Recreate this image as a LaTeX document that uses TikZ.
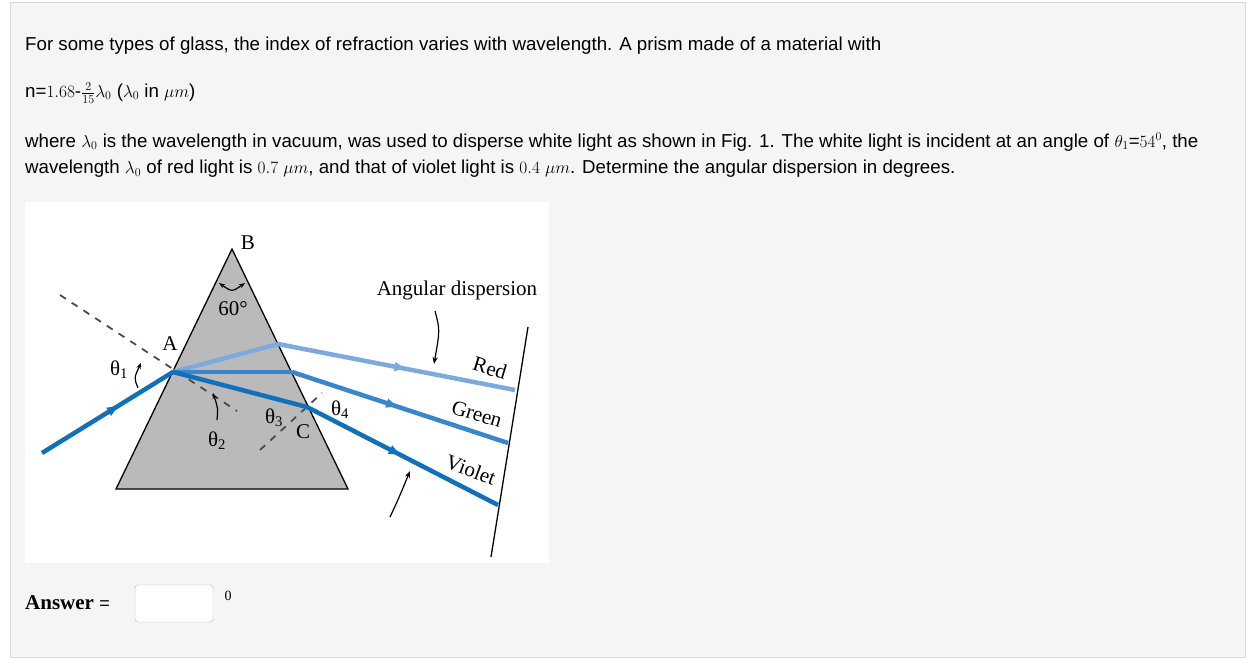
\documentclass[tikz,border=0pt]{standalone}
\usepackage{fontspec}
\setmainfont{Liberation Sans}
\newfontfamily\serf{Liberation Serif}
\usetikzlibrary{decorations.markings,arrows.meta}
\definecolor{rc}{HTML}{7EA9DC}
\definecolor{gc}{HTML}{3A86CC}
\definecolor{vc}{HTML}{1170BA}
\tikzset{
 ray/.style={line width=4.5pt},
 midarr/.style={postaction={decorate},decoration={markings,mark=at position #1 with {\arrow{Latex[length=14pt,width=10pt]}}}},
 dsh/.style={dash pattern=on 7pt off 7pt,line width=1.8pt,black!70},
 lbl/.style={font=\serf\fontsize{21}{21}\selectfont,inner sep=0pt},
 txt/.style={anchor=west,inner sep=0pt,font=\fontsize{18.7}{22}\selectfont}
}
\begin{document}
\begin{tikzpicture}[x=1pt,y=-1pt]
\useasboundingbox (0,0) rectangle (1253,661);
\fill[white] (0,0) rectangle (1253,661);
\filldraw[fill=black!4,draw=black!15] (10,2) rectangle (1245,657);
\node[txt] (t1) at (25,46) {For some types of glass, the index of refraction varies with wavelength. A prism made of a material with};
\node[txt] (t2) at (25,93) {n=$1.68$-$\frac{2}{15}\lambda_0$ ($\lambda_0$ in $\mu m$)};
\node[txt] (t3) at (25,142) {where $\lambda_0$ is the wavelength in vacuum, was used to disperse white light as shown in Fig. 1. The white light is incident at an angle of $\theta_1$=$54^0$, the};
\node[txt] (t4) at (25,169) {wavelength $\lambda_0$ of red light is $0.7\ \mu m$, and that of violet light is $0.4\ \mu m$. Determine the angular dispersion in degrees.};
\fill[white] (25,202) rectangle (549,563);
\coordinate (B) at (232,249);
\coordinate (BL) at (116,489);
\coordinate (BR) at (348,489);
\filldraw[fill=black!27,draw=black,line width=1.3pt] (B) -- (BL) -- (BR) -- cycle;
\coordinate (A) at (173,372);
\coordinate (Re) at (278,344);
\coordinate (Ge) at (292,372);
\coordinate (Ve) at (307,407);
\coordinate (Rf) at (515,390);
\coordinate (Gf) at (508,443);
\coordinate (Vf) at (498,505);
\coordinate (S0) at (42,453);
\coordinate (N1) at (60,295); \coordinate (N2) at (237,411);
\draw[dsh] (N1) -- (N2);
\coordinate (N3) at (260,450); \coordinate (N4) at (322,393);
\draw[dsh] (N3) -- (N4);
\draw[ray,rc] (A) -- (Re);
\draw[ray,rc,midarr=0.55] (Re) -- (Rf);
\draw[ray,gc] (A) -- (Ge);
\draw[ray,gc,midarr=0.5] (Ge) -- (Gf);
\draw[ray,vc] (A) -- (Ve);
\draw[ray,vc,midarr=0.5] (Ve) -- (Vf);
\draw[ray,vc,midarr=0.6] (S0) -- (A);
\coordinate (P1) at (528,327); \coordinate (P2) at (491,557);
\draw[line width=1.3pt] (P1) -- (P2);
\draw[-{Stealth[length=6pt]},line width=1.2pt] (138,388) .. controls (134,378) .. (141,363);
\draw[-{Stealth[length=6pt]},line width=1.2pt] (217,420) .. controls (218,408) .. (213,393);
\draw[{Stealth[length=6pt]}-{Stealth[length=6pt]},line width=1.2pt] (219,283) .. controls (232,292) .. (245,283);
\draw[-{Stealth[length=7pt]},line width=1.2pt] (435,311) .. controls (440,330) .. (434,364);
\draw[-{Stealth[length=7pt]},line width=1.2pt] (390,517) .. controls (398,500) .. (410,471);
\node[lbl] (lB) at (248,243) {B};
\node[lbl] (l60) at (233,309) {60°};
\node[lbl] (lA) at (170,344) {A};
\node[lbl] (lC) at (303,432) {C};
\node[lbl] (lt1) at (119,370) {θ\textsubscript{1}};
\node[lbl] (lt2) at (217,441) {θ\textsubscript{2}};
\node[lbl] (lt3) at (274,418) {θ\textsubscript{3}};
\node[lbl] (lt4) at (340,410) {θ\textsubscript{4}};
\node[lbl] (lad) at (457,290) {Angular dispersion};
\node[lbl,rotate=-17] (lr) at (490,368) {Red};
\node[lbl,rotate=-17] (lg) at (477,414) {Green};
\node[lbl,rotate=-20] (lv) at (471,470) {Violet};
\node[anchor=west,inner sep=0pt,font=\serf\bfseries\fontsize{21}{21}\selectfont] (ans) at (25,603) {Answer \normalfont\fontsize{18}{18}\selectfont=};
\draw[black!30,fill=white,rounded corners=3pt] (135,585) rectangle (213,622);
\node[font=\serf\fontsize{14}{14}\selectfont] (z) at (228,596) {0};
\end{tikzpicture}
\end{document}
